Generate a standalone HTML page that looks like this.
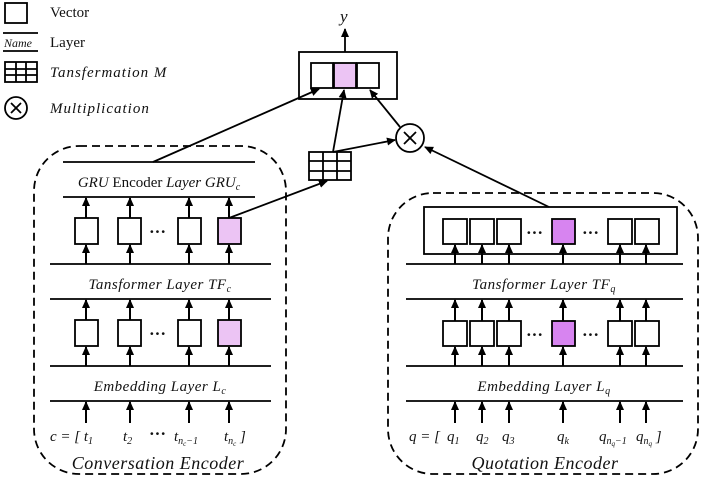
<!DOCTYPE html>
<html><head><meta charset="utf-8"><style>
body{margin:0;background:#fff}
svg{display:block}
text{font-family:"Liberation Serif",serif;font-size:15px;fill:#111}
.i{font-style:italic}
.d{font-weight:bold;font-size:17px}
</style></head><body>
<svg width="704" height="478" viewBox="0 0 704 478" xmlns="http://www.w3.org/2000/svg">
<defs><marker id="a" markerWidth="9" markerHeight="9" refX="8" refY="4.5" orient="auto" markerUnits="userSpaceOnUse"><path d="M0,0.5 L9,4.5 L0,8.5 z" fill="#000"/></marker></defs>
<g stroke="#000" stroke-width="1.8" fill="none">
<rect x="5" y="3" width="22" height="20" fill="#fff"/>
<line x1="3" y1="33" x2="38" y2="33"/><line x1="3" y1="51" x2="38" y2="51"/>
<rect x="5" y="62" width="32" height="20"/><line x1="5" y1="69" x2="37" y2="69"/><line x1="5" y1="75" x2="37" y2="75"/><line x1="16" y1="62" x2="16" y2="82"/><line x1="26" y1="62" x2="26" y2="82"/>
<circle cx="16" cy="108" r="11"/><line x1="11" y1="103" x2="21" y2="113"/><line x1="21" y1="103" x2="11" y2="113"/>
<rect x="299" y="52" width="98" height="47"/>
<rect x="311" y="63" width="22" height="25" fill="#fff"/>
<rect x="334" y="63" width="22" height="25" fill="#ecc4f4"/>
<rect x="357" y="63" width="22" height="25" fill="#fff"/>
<line x1="345" y1="52" x2="345" y2="29" marker-end="url(#a)"/>
<circle cx="410" cy="138" r="14"/><line x1="404" y1="132" x2="416" y2="144"/><line x1="416" y1="132" x2="404" y2="144"/>
<rect x="309" y="152" width="42" height="28"/><line x1="309" y1="161" x2="351" y2="161"/><line x1="309" y1="171" x2="351" y2="171"/><line x1="323" y1="152" x2="323" y2="180"/><line x1="337" y1="152" x2="337" y2="180"/>
<line x1="153" y1="162" x2="319" y2="89" marker-end="url(#a)"/>
<line x1="229" y1="218" x2="327" y2="181" marker-end="url(#a)"/>
<line x1="333" y1="152" x2="344" y2="90" marker-end="url(#a)"/>
<line x1="333" y1="152" x2="395" y2="140" marker-end="url(#a)"/>
<line x1="400" y1="127" x2="370" y2="90" marker-end="url(#a)"/>
<line x1="549" y1="207" x2="425" y2="147" marker-end="url(#a)"/>
<rect x="34" y="146" width="252" height="328" rx="45" stroke-dasharray="8,5"/>
<line x1="63" y1="162" x2="255" y2="162"/><line x1="63" y1="197" x2="255" y2="197"/><line x1="50" y1="264" x2="271" y2="264"/><line x1="50" y1="299" x2="271" y2="299"/><line x1="50" y1="366" x2="271" y2="366"/><line x1="50" y1="401" x2="271" y2="401"/>
<rect x="388" y="193" width="310" height="281" rx="45" stroke-dasharray="8,5"/>
<rect x="424" y="207" width="253" height="47"/>
<line x1="406" y1="264" x2="683" y2="264"/><line x1="406" y1="299" x2="683" y2="299"/><line x1="406" y1="366" x2="683" y2="366"/><line x1="406" y1="401" x2="683" y2="401"/>
</g>
<g stroke="#000" stroke-width="1.8">
<rect x="75" y="218" width="23" height="26" fill="#fff"/><rect x="118" y="218" width="23" height="26" fill="#fff"/><rect x="178" y="218" width="23" height="26" fill="#fff"/><rect x="218" y="218" width="23" height="26" fill="#ecc4f4"/>
<rect x="75" y="320" width="23" height="26" fill="#fff"/><rect x="118" y="320" width="23" height="26" fill="#fff"/><rect x="178" y="320" width="23" height="26" fill="#fff"/><rect x="218" y="320" width="23" height="26" fill="#ecc4f4"/>
<rect x="443" y="219" width="24" height="25" fill="#fff"/><rect x="470" y="219" width="24" height="25" fill="#fff"/><rect x="497" y="219" width="24" height="25" fill="#fff"/><rect x="552" y="219" width="23" height="25" fill="#d784f0"/><rect x="608" y="219" width="24" height="25" fill="#fff"/><rect x="635" y="219" width="24" height="25" fill="#fff"/>
<rect x="443" y="321" width="24" height="25" fill="#fff"/><rect x="470" y="321" width="24" height="25" fill="#fff"/><rect x="497" y="321" width="24" height="25" fill="#fff"/><rect x="552" y="321" width="23" height="25" fill="#d784f0"/><rect x="608" y="321" width="24" height="25" fill="#fff"/><rect x="635" y="321" width="24" height="25" fill="#fff"/>
</g>
<g stroke="#000" stroke-width="2" marker-end="url(#a)">
<line x1="86" y1="218" x2="86" y2="198"/><line x1="130" y1="218" x2="130" y2="198"/><line x1="189" y1="218" x2="189" y2="198"/><line x1="229" y1="218" x2="229" y2="198"/>
<line x1="86" y1="264" x2="86" y2="245"/><line x1="130" y1="264" x2="130" y2="245"/><line x1="189" y1="264" x2="189" y2="245"/><line x1="229" y1="264" x2="229" y2="245"/>
<line x1="86" y1="320" x2="86" y2="300"/><line x1="130" y1="320" x2="130" y2="300"/><line x1="189" y1="320" x2="189" y2="300"/><line x1="229" y1="320" x2="229" y2="300"/>
<line x1="86" y1="366" x2="86" y2="347"/><line x1="130" y1="366" x2="130" y2="347"/><line x1="189" y1="366" x2="189" y2="347"/><line x1="229" y1="366" x2="229" y2="347"/>
<line x1="86" y1="423" x2="86" y2="402"/><line x1="130" y1="423" x2="130" y2="402"/><line x1="189" y1="423" x2="189" y2="402"/><line x1="229" y1="423" x2="229" y2="402"/>
<line x1="455" y1="264" x2="455" y2="245"/><line x1="482" y1="264" x2="482" y2="245"/><line x1="509" y1="264" x2="509" y2="245"/><line x1="563" y1="264" x2="563" y2="245"/><line x1="620" y1="264" x2="620" y2="245"/><line x1="646" y1="264" x2="646" y2="245"/>
<line x1="455" y1="321" x2="455" y2="300"/><line x1="482" y1="321" x2="482" y2="300"/><line x1="509" y1="321" x2="509" y2="300"/><line x1="563" y1="321" x2="563" y2="300"/><line x1="620" y1="321" x2="620" y2="300"/><line x1="646" y1="321" x2="646" y2="300"/>
<line x1="455" y1="366" x2="455" y2="347"/><line x1="482" y1="366" x2="482" y2="347"/><line x1="509" y1="366" x2="509" y2="347"/><line x1="563" y1="366" x2="563" y2="347"/><line x1="620" y1="366" x2="620" y2="347"/><line x1="646" y1="366" x2="646" y2="347"/>
<line x1="455" y1="423" x2="455" y2="402"/><line x1="482" y1="423" x2="482" y2="402"/><line x1="509" y1="423" x2="509" y2="402"/><line x1="563" y1="423" x2="563" y2="402"/><line x1="620" y1="423" x2="620" y2="402"/><line x1="646" y1="423" x2="646" y2="402"/>
</g>
<text x="50" y="17">Vector</text>
<text x="4" y="47" class="i" style="font-size:12px">Name</text>
<text x="50" y="47">Layer</text>
<text x="50" y="77" class="i" style="letter-spacing:1px">Tansfermation M</text>
<text x="50" y="113" class="i" style="letter-spacing:1px">Multiplication</text>
<text x="340" y="22" class="i" style="font-size:17px">y</text>
<text x="159" y="187" text-anchor="middle"><tspan class="i">GRU</tspan> Encoder <tspan class="i">Layer GRU</tspan><tspan class="i" style="font-size:10px" dy="3">c</tspan></text>
<text x="160" y="289" text-anchor="middle" class="i" style="letter-spacing:0.5px">Tansformer Layer TF<tspan style="font-size:10px" dy="3">c</tspan></text>
<text x="160" y="391" text-anchor="middle" class="i" style="letter-spacing:0.5px">Embedding Layer L<tspan style="font-size:10px" dy="3">c</tspan></text>
<text x="50" y="441" class="i">c = [ t<tspan style="font-size:10px" dy="3">1</tspan></text>
<text x="123" y="441" class="i">t<tspan style="font-size:10px" dy="3">2</tspan></text>
<text x="149" y="439" class="d">···</text>
<text x="174" y="441" class="i">t<tspan style="font-size:10px" dy="3">n<tspan style="font-size:7px" dy="2">c</tspan><tspan dy="-2">−1</tspan></tspan></text>
<text x="224" y="441" class="i">t<tspan style="font-size:10px" dy="3">n<tspan style="font-size:7px" dy="2">c</tspan></tspan><tspan dy="-5"> ]</tspan></text>
<text x="158" y="469" text-anchor="middle" class="i" style="font-size:18px;letter-spacing:0.5px">Conversation Encoder</text>
<text x="149" y="237" class="d">···</text>
<text x="149" y="339" class="d">···</text>
<text x="526" y="238" class="d">···</text>
<text x="582" y="238" class="d">···</text>
<text x="526" y="340" class="d">···</text>
<text x="582" y="340" class="d">···</text>
<text x="544" y="289" text-anchor="middle" class="i" style="letter-spacing:0.5px">Tansformer Layer TF<tspan style="font-size:10px" dy="3">q</tspan></text>
<text x="544" y="391" text-anchor="middle" class="i" style="letter-spacing:0.5px">Embedding Layer L<tspan style="font-size:10px" dy="3">q</tspan></text>
<text x="409" y="441" class="i">q = [</text>
<text x="447" y="441" class="i">q<tspan style="font-size:10px" dy="3">1</tspan></text>
<text x="476" y="441" class="i">q<tspan style="font-size:10px" dy="3">2</tspan></text>
<text x="502" y="441" class="i">q<tspan style="font-size:10px" dy="3">3</tspan></text>
<text x="557" y="441" class="i">q<tspan style="font-size:10px" dy="3">k</tspan></text>
<text x="599" y="441" class="i">q<tspan style="font-size:10px" dy="3">n<tspan style="font-size:7px" dy="2">q</tspan><tspan dy="-2">−1</tspan></tspan></text>
<text x="636" y="441" class="i">q<tspan style="font-size:10px" dy="3">n<tspan style="font-size:7px" dy="2">q</tspan></tspan><tspan dy="-5"> ]</tspan></text>
<text x="545" y="469" text-anchor="middle" class="i" style="font-size:18px;letter-spacing:0.5px">Quotation Encoder</text>
</svg>
</body></html>
